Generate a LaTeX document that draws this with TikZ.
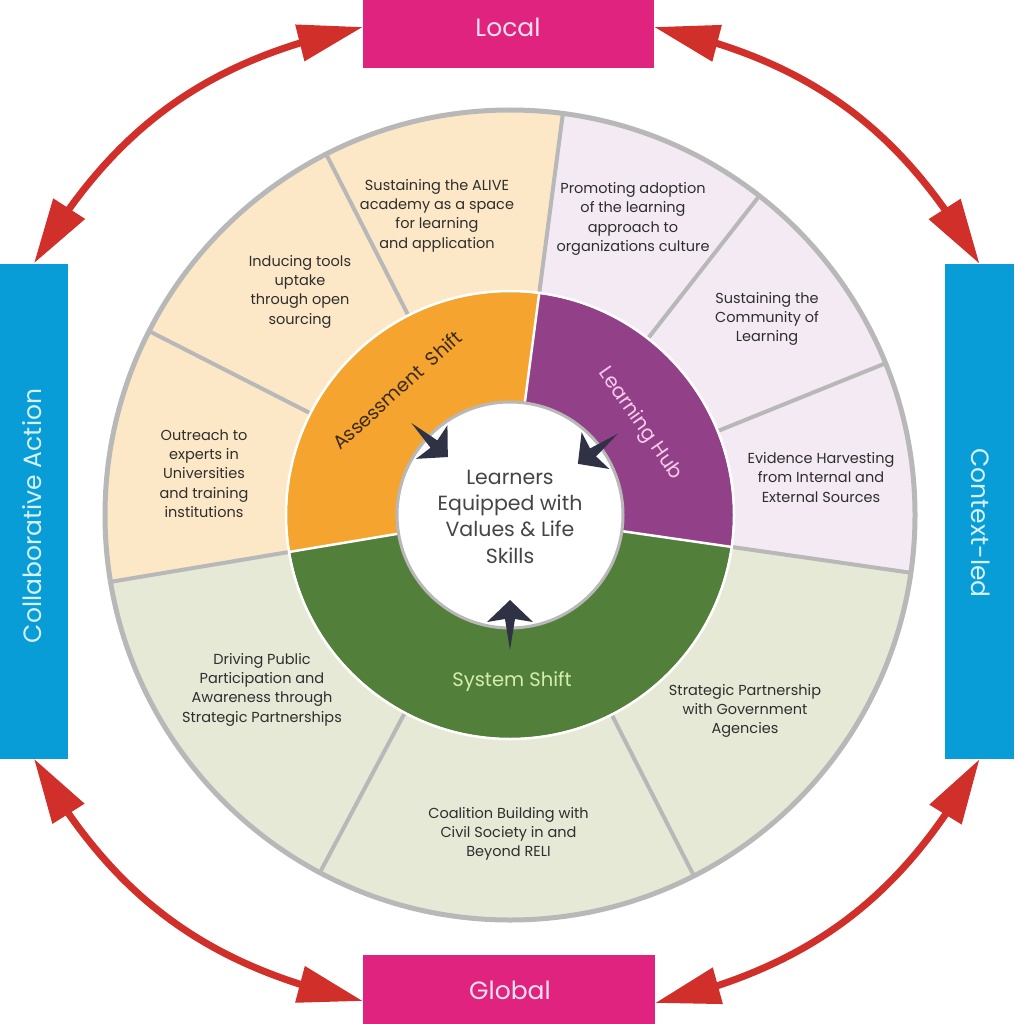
\documentclass[tikz,border=0pt]{standalone}
\usepackage{fontspec}
\setmainfont{Poppins}
\usetikzlibrary{arrows.meta,bending}
\definecolor{peach}{HTML}{FCE8C6}
\definecolor{lav}{HTML}{F4EAF3}
\definecolor{lgrn}{HTML}{E7E9D7}
\definecolor{orng}{HTML}{F5A52F}
\definecolor{purp}{HTML}{924189}
\definecolor{grn}{HTML}{52803A}
\definecolor{spk}{HTML}{B8B8B8}
\definecolor{navy}{HTML}{2F3245}
\definecolor{redarr}{HTML}{D12F2A}
\definecolor{mag}{HTML}{E0237F}
\definecolor{blu}{HTML}{089DD7}
\definecolor{txt}{HTML}{2E2E2E}
\definecolor{ctxt}{HTML}{454545}
\definecolor{magtxt}{HTML}{FBE0EE}
\definecolor{blutxt}{HTML}{D6F1FC}
\definecolor{asstxt}{HTML}{3B2A1C}
\definecolor{hubtxt}{HTML}{F6CBEB}
\definecolor{systxt}{HTML}{D5EDB2}
\begin{document}
\begin{tikzpicture}[x=1pt,y=1pt,
  seg/.style={align=center, text=txt, font=\fontsize{14.5}{19.3}\selectfont, inner sep=0pt},
  spoke/.style={draw=spk, line width=4pt},
  sep/.style={draw=white, line width=2.5pt},
  boxm/.style={fill=mag, draw=none, inner sep=0pt},
  boxb/.style={fill=blu, draw=none, inner sep=0pt},
  boxlbl/.style={font=\fontsize{25}{28}\selectfont, inner sep=0pt},
  redarrow/.style={draw=redarr, line width=7pt, {Triangle[length=65pt,width=36pt]}-{Triangle[length=65pt,width=36pt]}},
  inarrow/.style={fill=navy},
]
\useasboundingbox (0,0) rectangle (1014,-1024);
\fill[white] (0,0) rectangle (1014,-1024);

\begin{scope}[shift={(510,-515)}]
  % outer sectors
  \fill[peach] (0,0) -- (82.5:405) arc[start angle=82.5, end angle=189.5, radius=405] -- cycle;
  \fill[lav] (0,0) -- (-8.2:405) arc[start angle=-8.2, end angle=82.5, radius=405] -- cycle;
  \fill[lgrn] (0,0) -- (189.5:405) arc[start angle=189.5, end angle=351.8, radius=405] -- cycle;
  % spokes
  \foreach \a in {82.5,117,153,189.5,242,297,351.8,22,52}
    \draw[spoke] (\a:222) -- (\a:404);
  % outer border
  \draw[draw=spk, line width=5pt] (0,0) circle[radius=405];
  % inner ring
  \fill[orng] (82.5:113) -- (82.5:223) arc[start angle=82.5, end angle=189.5, radius=223]
     -- (189.5:113) arc[start angle=189.5, end angle=82.5, radius=113] -- cycle;
  \fill[purp] (-8.2:113) -- (-8.2:223) arc[start angle=-8.2, end angle=82.5, radius=223]
     -- (82.5:113) arc[start angle=82.5, end angle=-8.2, radius=113] -- cycle;
  \fill[grn] (189.5:113) -- (189.5:223) arc[start angle=189.5, end angle=351.8, radius=223]
     -- (351.8:113) arc[start angle=351.8, end angle=189.5, radius=113] -- cycle;
  \foreach \a in {82.5,189.5,351.8}
    \draw[sep] (\a:110) -- (\a:224);
  \draw[sep] (0,0) circle[radius=224];
  % centre disc
  \filldraw[fill=white, draw=spk, line width=3pt] (0,0) circle[radius=113];
  % inner arrows
  \foreach \a in {137,37,270}
    \fill[inarrow, rotate=\a] (85,0) -- (107,23) -- (104,5) -- (135,0) -- (104,-5) -- (107,-23) -- cycle;
\end{scope}

% centre text
\node[align=center, text=ctxt, font=\fontsize{20.5}{26.3}\selectfont, inner sep=0pt] (core) at (510,-516.5)
  {Learners\\Equipped with\\Values \& Life\\Skills};

% ring labels
\node[text=asstxt, font=\fontsize{19}{22}\selectfont, rotate=42, inner sep=0pt] (assess) at (397,-390) {Assessment~~Shift};
\node[text=hubtxt, font=\fontsize{20}{23}\selectfont, rotate=-55, inner sep=0pt] (hub) at (640,-424) {Learning Hub};
\node[text=systxt, font=\fontsize{19.5}{22}\selectfont, inner sep=0pt] (system) at (512,-682) {System Shift};

% segment texts
\node[seg] (s1) at (437,-215.5) {Sustaining the ALIVE\\academy as a space\\for learning\\and application};
\node[seg] (s2) at (300,-291.5) {Inducing tools\\uptake\\through open\\sourcing};
\node[seg] (s3) at (204,-473.5) {Outreach to\\experts in\\Universities\\and training\\institutions};
\node[seg] (s4) at (633,-219) {Promoting adoption\\of the learning\\approach to\\organizations culture};
\node[seg] (s5) at (767,-319) {Sustaining the\\Community of\\Learning};
\node[seg] (s6) at (821,-477.5) {Evidence Harvesting\\from Internal and\\External Sources};
\node[seg] (s7) at (745,-711) {Strategic Partnership\\with Government\\Agencies};
\node[seg] (s8) at (508.5,-834) {Coalition Building with\\Civil Society in and\\Beyond RELI};
\node[seg] (s9) at (262,-689.5) {Driving Public\\Participation and\\Awareness through\\Strategic Partnerships};

% outer boxes
\node[boxm, minimum width=291pt, minimum height=82pt] (local) at (508.5,-27) {};
\node[boxm, minimum width=292pt, minimum height=72pt] (global) at (509,-991) {};
\node[boxb, minimum width=68pt, minimum height=495pt] (collab) at (34,-511) {};
\node[boxb, minimum width=69pt, minimum height=495pt] (context) at (979.5,-511.5) {};
\node[boxlbl, text=magtxt] (locallbl) at (508,-27) {Local};
\node[boxlbl, text=magtxt] (globallbl) at (510,-990) {Global};
\node[boxlbl, text=blutxt, rotate=90] (collablbl) at (32,-516) {Collaborative Action};
\node[boxlbl, text=blutxt, rotate=-90] (contextlbl) at (981,-523) {Context-led};

% red arrows
\draw[redarrow] (collab.north) to[bend left=24] (local.west);
\draw[redarrow] (local.east) to[bend left=24] (context.north);
\draw[redarrow] (context.south) to[bend left=24] ([yshift=-12pt]global.east);
\draw[redarrow] ([yshift=-10pt]global.west) to[bend left=24] (collab.south);
\end{tikzpicture}
\end{document}
